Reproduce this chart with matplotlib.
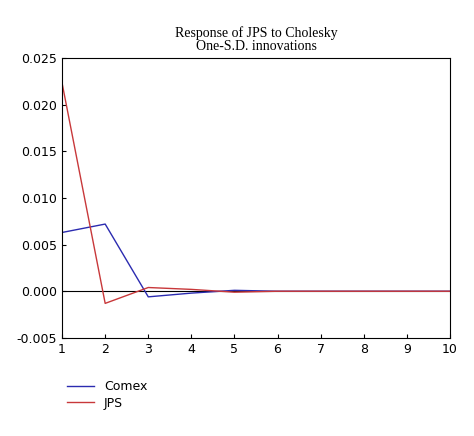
import numpy as np
from matplotlib import pyplot as plt
from matplotlib.lines import Line2D

periods = np.arange(1, 11)
comex = [0.0063, 0.0072, -0.0006, -0.0002, 0.0001, 0.0000, 0.0000, 0.0000, 0.0000, 0.0000]
jps = [0.0223, -0.0013, 0.0004, 0.0002, -0.0001, 0.0000, 0.0000, 0.0000, 0.0000, 0.0000]
y_ticks = [-0.005, 0.000, 0.005, 0.010, 0.015, 0.020, 0.025]

fig = plt.figure(figsize=(4.74, 4.36), dpi=100)
ax = fig.add_axes([0.131, 0.225, 0.818, 0.642])

ax.axhline(0, color="black", lw=0.8)
ax.plot(periods, comex, color="#2b2bb0", lw=1.0)
ax.plot(periods, jps, color="#c8383a", lw=1.0)

ax.set_xlim(1, 10)
ax.set_ylim(-0.005, 0.025)
ax.set_xticks(periods)
ax.set_yticks(y_ticks)
ax.set_yticklabels([f"{v:.3f}" for v in y_ticks])
ax.tick_params(labelsize=9, direction="in", length=3)
for s in ax.spines.values():
    s.set_linewidth(0.8)

ax.set_title("Response of JPS to Cholesky\nOne-S.D. innovations",
             fontsize=10, family="Liberation Serif", linespacing=1.0, pad=6)

handles = [Line2D([], [], color="#2b2bb0", lw=1.0),
           Line2D([], [], color="#c8383a", lw=1.0)]
fig.legend(handles, ["Comex", "JPS"], loc="upper left", bbox_to_anchor=(0.13, 0.14),
           frameon=False, fontsize=9, handlelength=2.2, labelspacing=0.3,
           borderaxespad=0)

fig.savefig("out.png", dpi=100)
